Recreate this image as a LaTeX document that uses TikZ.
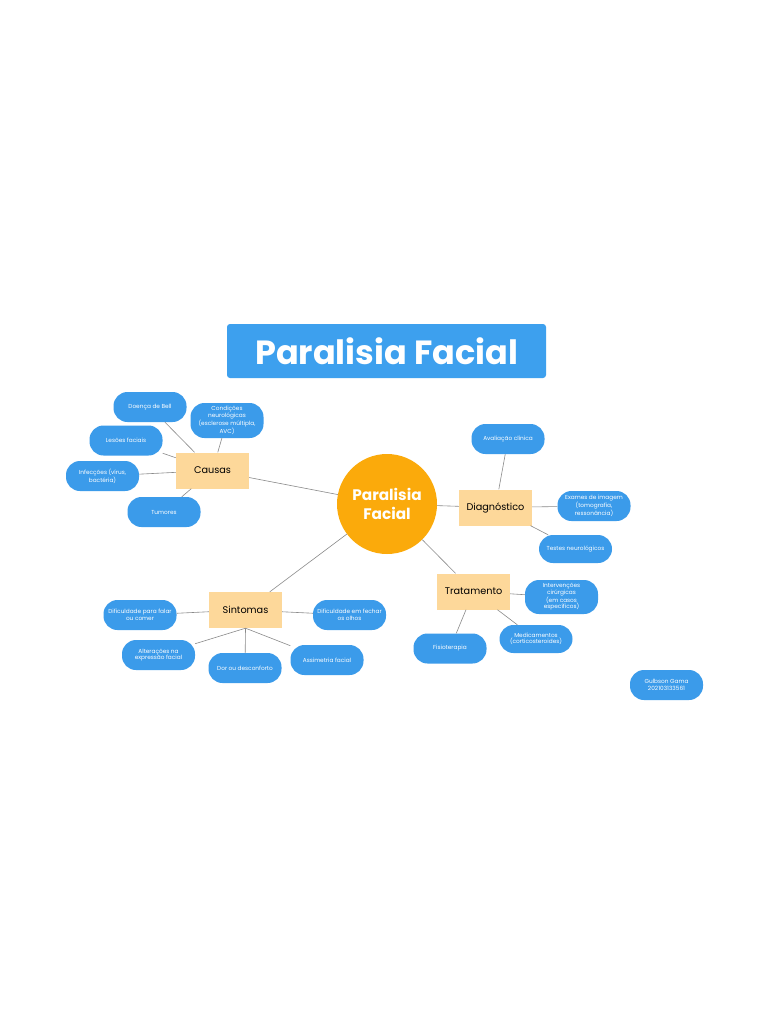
\documentclass[tikz,border=0pt]{standalone}
\usepackage{fontspec}
\setmainfont{Poppins}
\usetikzlibrary{positioning}

\definecolor{titleblue}{HTML}{3DA0EE}
\definecolor{pillblue}{HTML}{3B9BEA}
\definecolor{hubor}{HTML}{FBAA0B}
\definecolor{boxor}{HTML}{FDD89A}
\definecolor{linegray}{HTML}{8A8A8A}

\begin{document}
\begin{tikzpicture}[
    x=1pt, y=-1pt,
    topic/.style={fill=boxor, minimum width=73pt, minimum height=36pt, align=center, font=\fontsize{9.7}{11}\selectfont},
    pill/.style={fill=pillblue, rounded corners=14pt, minimum width=73pt, minimum height=30pt, inner sep=1pt, align=center, text=white, font=\fontsize{5.8}{6.6}\selectfont},
    hub/.style={circle, fill=hubor, minimum size=100pt, align=center, text=white, font=\fontsize{15.3}{18.5}\selectfont\bfseries},
    link/.style={draw=linegray, line width=0.6pt}
]
\useasboundingbox (0,0) rectangle (768,1024);
\fill[white] (0,0) rectangle (768,1024);

% titulo e centro
\node[fill=titleblue, rounded corners=3pt, minimum width=319pt, minimum height=54pt, text=white, font=\fontsize{33.5}{36}\selectfont\bfseries] (title) at (386.5,351) {Paralisia Facial};
\node[hub] (hub) at (387,504) {Paralisia\\Facial};

% ramos
\node[topic] (caus) at (212.5,470.5) {Causas};
\node[topic] (diag) at (495.5,507.5) {Diagnóstico};
\node[topic] (trat) at (473.5,591.5) {Tratamento};
\node[topic] (sint) at (245.5,610) {Sintomas};

% causas
\node[pill] (bell) at (150,407) {Doença de Bell};
\node[pill, minimum height=35pt] (neuro) at (227,420.5) {Condições\\neurológicas\\(esclerose múltipla,\\AVC)};
\node[pill] (lesao) at (126,440.5) {Lesões faciais};
\node[pill] (infec) at (102.5,476) {Infecções (vírus,\\bactéria)};
\node[pill] (tumor) at (164,512) {Tumores};

% diagnostico
\node[pill] (aval) at (508,439) {Avaliação clínica};
\node[pill] (exame) at (594,506) {Exames de imagem\\(tomografia,\\ressonância)};
\node[pill, minimum height=28pt] (teste) at (575.5,549) {Testes neurológicos};

% tratamento
\node[pill, minimum height=34pt] (cirur) at (561.5,597) {Intervenções\\cirúrgicas\\(em casos\\específicos)};
\node[pill, minimum height=28pt] (medic) at (536,639) {Medicamentos\\(corticosteroides)};
\node[pill] (fisio) at (450,648.5) {Fisioterapia};

% sintomas
\node[pill] (falar) at (140,615) {Dificuldade para falar\\ou comer};
\node[pill] (olhos) at (349.5,615) {Dificuldade em fechar\\os olhos};
\node[pill] (expr) at (158.5,655) {Alterações na\\expressão facial};
\node[pill] (dor) at (245,668) {Dor ou desconforto};
\node[pill] (assim) at (327,660) {Assimetria facial};

\node[pill] (autor) at (666.5,685) {Gulbson Gama\\202103133561};

% ligacoes
\draw[link] (caus) -- (hub);
\draw[link] (hub) -- (diag);
\draw[link] (hub) -- (trat);
\draw[link] (hub) -- (sint);
\draw[link] (bell) -- (caus);
\draw[link] (neuro) -- (caus);
\draw[link] (lesao) -- (caus);
\draw[link] (infec) -- (caus);
\draw[link] (tumor) -- (caus);
\draw[link] (aval) -- (diag);
\draw[link] (exame) -- (diag);
\draw[link] (teste) -- (diag);
\draw[link] (cirur) -- (trat);
\draw[link] (medic) -- (trat);
\draw[link] (fisio) -- (trat);
\draw[link] (falar) -- (sint);
\draw[link] (olhos) -- (sint);
\draw[link] (sint.south) -- (expr);
\draw[link] (sint.south) -- (dor);
\draw[link] (sint.south) -- (assim);
\end{tikzpicture}
\end{document}
